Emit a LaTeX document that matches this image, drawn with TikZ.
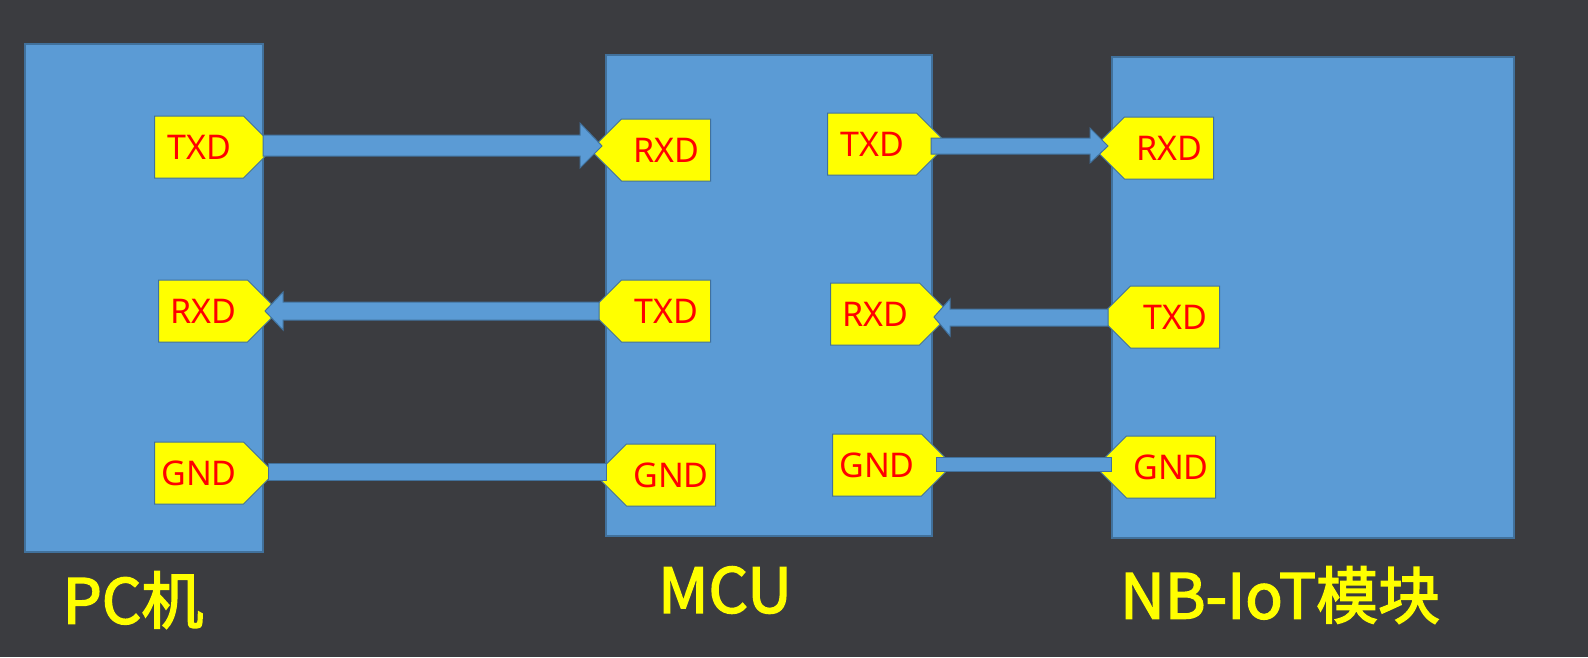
\documentclass[tikz,border=0pt]{standalone}
\usepackage{fontspec}
\setmainfont{Noto Sans}
\newfontfamily\cjk{Noto Sans CJK SC}[AutoFakeBold=2.5]
\usetikzlibrary{shapes.symbols}
\definecolor{bg}{HTML}{3B3C40}
\definecolor{bl}{HTML}{5B9BD5}
\definecolor{bd}{HTML}{41719C}
\definecolor{yl}{HTML}{FFFF00}
\begin{document}
\begin{tikzpicture}[x=1pt,y=-1pt,
  box/.style={draw=bd,fill=bl,line width=1.2pt},
  tag/.style={signal,draw=bd,fill=yl,line width=1pt,minimum width=120pt,minimum height=62pt,inner sep=0pt,signal pointer angle=90,font=\fontsize{34}{34}\selectfont\bfseries,text=red},
  tr/.style={tag,signal to=east,signal from=nowhere},
  tl/.style={tag,signal to=west,signal from=nowhere},
  arr/.style={draw=bd,fill=bl,line width=1pt},
  big/.style={font=\cjk\fontsize{62}{62}\selectfont\bfseries,text=yl}]
\fill[bg] (0,0) rectangle (1588,657);
\useasboundingbox (0,0) rectangle (1588,657);
\draw[box] (25,44) rectangle (263,552);
\draw[box] (606,55) rectangle (932,536);
\draw[box] (1112,57) rectangle (1514,538);
\node[tr] (pctx) at (199,147) {TXD};
\node[tr] (pcrx) at (203,311) {RXD};
\node[tr] (pcg) at (199,473) {GND};
\node[tl] (mrx) at (666,150) {RXD};
\node[tl] (mtx) at (666,311) {TXD};
\node[tl] (mg) at (671,475) {GND};
\node[tr] (mtx2) at (872,144) {TXD};
\node[tr] (mrx2) at (875,314) {RXD};
\node[tr] (mg2) at (877,465) {GND};
\node[tl] (nrx) at (1169,148) {RXD};
\node[tl] (ntx) at (1175,317) {TXD};
\node[tl] (ng) at (1171,467) {GND};
% arrows
\draw[arr] (263,135) -- (580,135) -- (580,123) -- (602,146) -- (580,168) -- (580,156) -- (263,156) -- cycle;
\draw[arr] (599,302) -- (283,302) -- (283,292) -- (265,311) -- (283,330) -- (283,320) -- (599,320) -- cycle;
\draw[arr] (268,463) rectangle (606,480);
\draw[arr] (931,138) -- (1090,138) -- (1090,128) -- (1108,146) -- (1090,163) -- (1090,154) -- (931,154) -- cycle;
\draw[arr] (1108,309) -- (950,309) -- (950,299) -- (934,317) -- (950,336) -- (950,326) -- (1108,326) -- cycle;
\draw[arr] (936,457) rectangle (1111,471);
\node[big] (l1) at (133,600) {PC机};
\node[big] (l2) at (725,590) {MCU};
\node[big] (l3) at (1280,595) {NB-IoT模块};
\end{tikzpicture}
\end{document}
